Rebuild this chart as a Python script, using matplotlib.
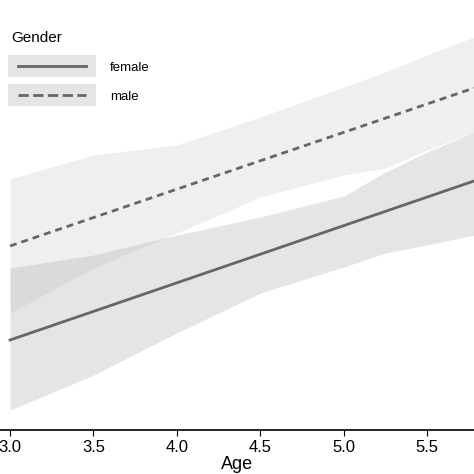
import numpy as np
import matplotlib.pyplot as plt
from matplotlib.patches import Rectangle
from matplotlib.lines import Line2D
from matplotlib.legend_handler import HandlerBase

plt.rcParams["font.family"] = ["Liberation Sans", "DejaVu Sans"]

# values (vertical unit is arbitrary)
age_line = [3.0, 5.78]
female_fit = [-340, -181]
male_fit = [-246, -88]

age_band = [3.0, 3.5, 4.0, 4.5, 5.0, 5.25, 5.5, 5.78]
female_lo = [-410, -375, -333, -293, -267, -253, -245, -235]
female_hi = [-268, -255, -235, -217, -196, -172, -152, -132]
male_lo = [-313, -268, -233, -197, -175, -168, -150, -132]
male_hi = [-179, -155, -145, -117, -87, -72, -55, -37]


class KeyHandler(HandlerBase):
    # grey key box with the line drawn across it
    def create_artists(self, legend, orig, xd, yd, w, h, fs, trans):
        box = Rectangle((-xd - 2, -yd - 3), w + 4, h + 6, facecolor="#e5e5e5",
                        edgecolor="none", transform=trans)
        ln = Line2D([-xd + 5, -xd + w - 5], [-yd + h / 2] * 2, color="#666666",
                    lw=2, ls=orig.get_linestyle(), transform=trans)
        return [box, ln]


fig = plt.figure(figsize=(4.74, 4.74), dpi=100)
ax = fig.add_axes([0, 44 / 474, 1, 430 / 474])

ax.fill_between(age_band, female_lo, female_hi, color="#999999", alpha=0.25, lw=0)
ax.fill_between(age_band, male_lo, male_hi, color="#b0b0b0", alpha=0.2, lw=0)
ax.plot(age_line, female_fit, color="#666666", lw=2)
ax.plot(age_line, male_fit, color="#666666", lw=2, ls=(0, (2.5, 1.8)))

ax.set_xlim(2.94, 5.78)
ax.set_ylim(-430, 0)
ax.set_xticks([3.0, 3.5, 4.0, 4.5, 5.0, 5.5])
ax.tick_params(axis="x", labelsize=12, length=4, pad=3)
ax.set_yticks([])
for s in ["left", "right", "top"]:
    ax.spines[s].set_visible(False)
ax.spines["bottom"].set_linewidth(1.2)
ax.set_xlabel("Age", fontsize=13, labelpad=1)

h1 = Line2D([], [], ls="-")
h2 = Line2D([], [], ls=(0, (2.5, 1.8)))
leg = ax.legend([h1, h2], ["female", "male"], title="Gender",
                handler_map={Line2D: KeyHandler()},
                loc="upper left", bbox_to_anchor=(0.012, 0.94), frameon=False,
                fontsize=9.5, title_fontsize=11, handlelength=6.2, handleheight=1.2,
                labelspacing=1.1, handletextpad=1.3, borderaxespad=0)
leg._legend_box.align = "left"

fig.savefig("out.png", dpi=100)
